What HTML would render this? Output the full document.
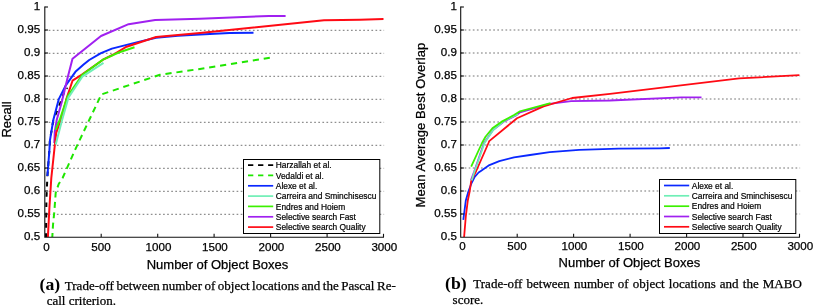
<!DOCTYPE html>
<html><head><meta charset="utf-8"><title>Figure</title>
<style>
html,body{margin:0;padding:0;background:#fff}
body{width:814px;height:305px;position:relative;overflow:hidden}
.cap{position:absolute;font:13px "Liberation Serif",serif;color:#000;white-space:nowrap;line-height:16px;-webkit-text-stroke:.25px #000}
.cap b{font-size:17.7px;font-weight:bold;line-height:20px;-webkit-text-stroke:0}
</style></head><body>
<svg width="814" height="305" viewBox="0 0 814 305" style="position:absolute;left:0;top:0">
<style>
.g{stroke:#747474;stroke-width:1;stroke-dasharray:1.7 2.385;}
.ax{stroke:#111;stroke-width:1.1;fill:none}
.t{font:11.6px "Liberation Sans",sans-serif;fill:#000;stroke:#000;stroke-width:.25}
.l{font:13px "Liberation Sans",sans-serif;fill:#000;stroke:#000;stroke-width:.25}
.lg{font:8.4px "Liberation Sans",sans-serif;fill:#000;stroke:#000;stroke-width:.2}
</style>
<line x1="44.6" y1="30.3" x2="384.1" y2="30.3" class="g"/>
<line x1="44.6" y1="53.3" x2="384.1" y2="53.3" class="g"/>
<line x1="44.6" y1="76.3" x2="384.1" y2="76.3" class="g"/>
<line x1="44.6" y1="99.3" x2="384.1" y2="99.3" class="g"/>
<line x1="44.6" y1="122.3" x2="384.1" y2="122.3" class="g"/>
<line x1="44.6" y1="145.3" x2="384.1" y2="145.3" class="g"/>
<line x1="44.6" y1="168.3" x2="384.1" y2="168.3" class="g"/>
<line x1="44.6" y1="191.3" x2="384.1" y2="191.3" class="g"/>
<line x1="44.6" y1="214.3" x2="384.1" y2="214.3" class="g"/>
<line x1="460.55" y1="30" x2="800.1" y2="30" class="g"/>
<line x1="460.55" y1="53" x2="800.1" y2="53" class="g"/>
<line x1="460.55" y1="76" x2="800.1" y2="76" class="g"/>
<line x1="460.55" y1="99" x2="800.1" y2="99" class="g"/>
<line x1="460.55" y1="122" x2="800.1" y2="122" class="g"/>
<line x1="460.55" y1="145" x2="800.1" y2="145" class="g"/>
<line x1="460.55" y1="168" x2="800.1" y2="168" class="g"/>
<line x1="460.55" y1="191" x2="800.1" y2="191" class="g"/>
<line x1="460.55" y1="214" x2="800.1" y2="214" class="g"/>
<polyline points="46.0,237.0 46.4,200.0 47.4,176.0 49.4,150.0 49.9,140.7 53.3,120.0 56.0,113.5 59.4,105.2 62.0,98.5 64.6,90.5" fill="none" stroke="#000" stroke-width="2" stroke-linejoin="round" stroke-dasharray="4.7 5.6" stroke-dashoffset="1"/>
<polyline points="52.3,237.0 53.0,225.0 54.3,212.0 55.7,192.8 58.7,184.0 62.6,178.0 75.0,150.0 89.2,120.0 101.4,94.4" fill="none" stroke="#1fe600" stroke-width="2" stroke-linejoin="round" stroke-dasharray="6 4.4" stroke-dashoffset="2"/>
<polyline points="101.4,94.4 160.0,74.8 200.0,68.9 270.9,57.5" fill="none" stroke="#1fe600" stroke-width="2" stroke-linejoin="round" stroke-dasharray="6.2 4.85" stroke-dashoffset="-1"/>
<polyline points="47.4,176.0 49.4,150.0 49.9,140.7 53.3,120.0 58.7,99.4 65.6,85.6 75.4,71.8 83.3,64.8 89.2,60.0 101.0,53.1 111.9,48.6 134.5,42.9 156.0,37.8 177.8,35.8 200.0,34.4 229.5,32.9 253.5,32.7" fill="none" stroke="#0a28ff" stroke-width="2.0" stroke-linejoin="round"/>
<polyline points="54.3,143.0 54.8,131.8 56.7,120.0 61.7,102.3 67.6,77.7 72.5,58.7 101.0,36.0 128.6,24.2 155.2,20.1 200.0,18.7 268.9,15.9 285.6,15.9" fill="none" stroke="#a020f0" stroke-width="2.0" stroke-linejoin="round"/>
<polyline points="47.9,237.0 49.4,208.0 51.3,178.0 54.3,150.0 56.2,132.8 60.7,120.0 66.6,98.4 72.5,80.7 82.3,74.4 103.0,59.7 113.5,54.5 126.6,46.7 156.1,37.0 200.0,32.9 324.0,20.3 360.0,19.7 383.5,19.0" fill="none" stroke="#ff0a14" stroke-width="2.0" stroke-linejoin="round"/>
<polyline points="55.6,129.8 59.7,120.0 67.6,96.4 82.3,74.8 103.0,59.6 118.7,52.5 134.5,47.2" fill="none" stroke="#3cf000" stroke-width="2.0" stroke-linejoin="round"/>
<polyline points="55.7,144.6 62.1,120.0 68.5,97.4 82.3,76.7 103.5,62.8" fill="none" stroke="#6fefb6" stroke-width="2.0" stroke-linejoin="round"/>
<polyline points="463.3,219.8 465.8,200.5 468.3,191.7 471.7,182.8 474.7,176.9 478.6,172.5 481.6,170.5 489.4,165.1 499.3,161.2 514.0,157.3 530.0,155.0 549.7,152.1 579.2,149.9 618.6,148.7 659.9,148.3 669.8,148.0" fill="none" stroke="#0a28ff" stroke-width="1.8" stroke-linejoin="round"/>
<polyline points="471.0,180.0 474.0,172.0 484.0,143.0 493.0,130.0 504.0,121.5 516.0,115.5 520.0,112.3 549.5,103.9 571.1,101.1 610.0,100.5 681.3,97.3 701.5,97.3" fill="none" stroke="#a020f0" stroke-width="1.8" stroke-linejoin="round"/>
<polyline points="464.1,237.0 465.8,216.5 467.8,200.5 469.8,190.7 471.2,180.8 476.2,171.0 488.5,143.0 489.2,141.1 517.0,118.2 543.6,106.4 572.1,98.0 610.0,93.9 739.2,78.4 799.4,75.2" fill="none" stroke="#ff0a14" stroke-width="1.8" stroke-linejoin="round"/>
<polyline points="471.7,180.4 474.2,172.5 484.5,143.0 493.4,129.8 504.0,121.0 516.0,115.0 518.0,114.3" fill="none" stroke="#6fefb6" stroke-width="1.8" stroke-linejoin="round"/>
<polyline points="471.2,166.6 482.0,143.0 485.5,136.7 492.4,128.3 501.3,121.9 514.0,115.0 520.0,111.3 550.5,103.1" fill="none" stroke="#3cf000" stroke-width="1.8" stroke-linejoin="round"/>
<circle cx="67.1" cy="88.4" r="0.8" fill="#000"/>
<path d="M44.8 6.5V237.2H384.0" class="ax"/>
<line x1="44.8" y1="7" x2="48.0" y2="7" class="ax"/>
<line x1="44.8" y1="30" x2="48.0" y2="30" class="ax"/>
<line x1="44.8" y1="53" x2="48.0" y2="53" class="ax"/>
<line x1="44.8" y1="76" x2="48.0" y2="76" class="ax"/>
<line x1="44.8" y1="99" x2="48.0" y2="99" class="ax"/>
<line x1="44.8" y1="122" x2="48.0" y2="122" class="ax"/>
<line x1="44.8" y1="145" x2="48.0" y2="145" class="ax"/>
<line x1="44.8" y1="168" x2="48.0" y2="168" class="ax"/>
<line x1="44.8" y1="191" x2="48.0" y2="191" class="ax"/>
<line x1="44.8" y1="214" x2="48.0" y2="214" class="ax"/>
<line x1="101.2" y1="237" x2="101.2" y2="233.8" class="ax"/>
<line x1="157.7" y1="237" x2="157.7" y2="233.8" class="ax"/>
<line x1="214.1" y1="237" x2="214.1" y2="233.8" class="ax"/>
<line x1="270.6" y1="237" x2="270.6" y2="233.8" class="ax"/>
<line x1="327.1" y1="237" x2="327.1" y2="233.8" class="ax"/>
<line x1="383.5" y1="237" x2="383.5" y2="233.8" class="ax"/>
<text x="40.2" y="10.3" class="t" text-anchor="end">1</text>
<text x="40.2" y="33.3" class="t" text-anchor="end">0.95</text>
<text x="40.2" y="56.3" class="t" text-anchor="end">0.9</text>
<text x="40.2" y="79.3" class="t" text-anchor="end">0.85</text>
<text x="40.2" y="102.3" class="t" text-anchor="end">0.8</text>
<text x="40.2" y="125.3" class="t" text-anchor="end">0.75</text>
<text x="40.2" y="148.3" class="t" text-anchor="end">0.7</text>
<text x="40.2" y="171.3" class="t" text-anchor="end">0.65</text>
<text x="40.2" y="194.3" class="t" text-anchor="end">0.6</text>
<text x="40.2" y="217.3" class="t" text-anchor="end">0.55</text>
<text x="40.2" y="240.3" class="t" text-anchor="end">0.5</text>
<text x="46.6" y="250.6" class="t" text-anchor="middle">0</text>
<text x="101.0" y="250.6" class="t" text-anchor="middle">500</text>
<text x="158.5" y="250.6" class="t" text-anchor="middle">1000</text>
<text x="214.9" y="250.6" class="t" text-anchor="middle">1500</text>
<text x="271.4" y="250.6" class="t" text-anchor="middle">2000</text>
<text x="327.9" y="250.6" class="t" text-anchor="middle">2500</text>
<text x="384.3" y="250.6" class="t" text-anchor="middle">3000</text>
<text x="217.5" y="269.4" class="l" text-anchor="middle">Number of Object Boxes</text>
<text transform="translate(11.2,119.5) rotate(-90)" class="l" text-anchor="middle" letter-spacing="0">Recall</text>
<path d="M460.7 6.5V237.2H800.0" class="ax"/>
<line x1="460.7" y1="7" x2="463.9" y2="7" class="ax"/>
<line x1="460.7" y1="30" x2="463.9" y2="30" class="ax"/>
<line x1="460.7" y1="53" x2="463.9" y2="53" class="ax"/>
<line x1="460.7" y1="76" x2="463.9" y2="76" class="ax"/>
<line x1="460.7" y1="99" x2="463.9" y2="99" class="ax"/>
<line x1="460.7" y1="122" x2="463.9" y2="122" class="ax"/>
<line x1="460.7" y1="145" x2="463.9" y2="145" class="ax"/>
<line x1="460.7" y1="168" x2="463.9" y2="168" class="ax"/>
<line x1="460.7" y1="191" x2="463.9" y2="191" class="ax"/>
<line x1="460.7" y1="214" x2="463.9" y2="214" class="ax"/>
<line x1="517.2" y1="237" x2="517.2" y2="233.8" class="ax"/>
<line x1="573.6" y1="237" x2="573.6" y2="233.8" class="ax"/>
<line x1="630.1" y1="237" x2="630.1" y2="233.8" class="ax"/>
<line x1="686.6" y1="237" x2="686.6" y2="233.8" class="ax"/>
<line x1="743.0" y1="237" x2="743.0" y2="233.8" class="ax"/>
<line x1="799.5" y1="237" x2="799.5" y2="233.8" class="ax"/>
<text x="456.9" y="9.8" class="t" text-anchor="end">1</text>
<text x="456.9" y="32.8" class="t" text-anchor="end">0.95</text>
<text x="456.9" y="55.8" class="t" text-anchor="end">0.9</text>
<text x="456.9" y="78.8" class="t" text-anchor="end">0.85</text>
<text x="456.9" y="101.8" class="t" text-anchor="end">0.8</text>
<text x="456.9" y="124.8" class="t" text-anchor="end">0.75</text>
<text x="456.9" y="147.8" class="t" text-anchor="end">0.7</text>
<text x="456.9" y="170.8" class="t" text-anchor="end">0.65</text>
<text x="456.9" y="193.8" class="t" text-anchor="end">0.6</text>
<text x="456.9" y="216.8" class="t" text-anchor="end">0.55</text>
<text x="456.9" y="239.8" class="t" text-anchor="end">0.5</text>
<text x="462.5" y="249.7" class="t" text-anchor="middle">0</text>
<text x="517.0" y="249.7" class="t" text-anchor="middle">500</text>
<text x="574.4" y="249.7" class="t" text-anchor="middle">1000</text>
<text x="630.9" y="249.7" class="t" text-anchor="middle">1500</text>
<text x="687.4" y="249.7" class="t" text-anchor="middle">2000</text>
<text x="743.8" y="249.7" class="t" text-anchor="middle">2500</text>
<text x="800.3" y="249.7" class="t" text-anchor="middle">3000</text>
<text x="629.4" y="267.3" class="l" text-anchor="middle">Number of Object Boxes</text>
<text transform="translate(425,125.0) rotate(-90)" class="l" text-anchor="middle" letter-spacing="0.1">Mean Average Best Overlap</text>
<rect x="243.5" y="159.5" width="136.3" height="74" fill="#fff" stroke="#000" stroke-width="1"/>
<line x1="248.0" y1="165.1" x2="273.2" y2="165.1" stroke="#000" stroke-width="1.7" stroke-dasharray="5.3 4.75"/>
<text x="275.8" y="168.3" class="lg">Harzallah et al.</text>
<line x1="248.0" y1="175.4" x2="273.2" y2="175.4" stroke="#1fe600" stroke-width="1.7" stroke-dasharray="5.3 4.75"/>
<text x="275.8" y="178.6" class="lg">Vedaldi et al.</text>
<line x1="248.0" y1="185.8" x2="273.2" y2="185.8" stroke="#0a28ff" stroke-width="1.7"/>
<text x="275.8" y="189.0" class="lg">Alexe et al.</text>
<line x1="248.0" y1="196.1" x2="273.2" y2="196.1" stroke="#6fefb6" stroke-width="1.7"/>
<text x="275.8" y="199.3" class="lg">Carreira and Sminchisescu</text>
<line x1="248.0" y1="206.4" x2="273.2" y2="206.4" stroke="#3cf000" stroke-width="1.7"/>
<text x="275.8" y="209.6" class="lg">Endres and Hoiem</text>
<line x1="248.0" y1="216.8" x2="273.2" y2="216.8" stroke="#a020f0" stroke-width="1.7"/>
<text x="275.8" y="219.9" class="lg">Selective search Fast</text>
<line x1="248.0" y1="227.1" x2="273.2" y2="227.1" stroke="#ff0a14" stroke-width="1.7"/>
<text x="275.8" y="230.3" class="lg">Selective search Quality</text>
<rect x="659.5" y="179.5" width="136.3" height="54" fill="#fff" stroke="#000" stroke-width="1"/>
<line x1="664.0" y1="185.5" x2="689.2" y2="185.5" stroke="#0a28ff" stroke-width="1.7"/>
<text x="691.8" y="188.7" class="lg">Alexe et al.</text>
<line x1="664.0" y1="195.8" x2="689.2" y2="195.8" stroke="#6fefb6" stroke-width="1.7"/>
<text x="691.8" y="199.0" class="lg">Carreira and Sminchisescu</text>
<line x1="664.0" y1="206.2" x2="689.2" y2="206.2" stroke="#3cf000" stroke-width="1.7"/>
<text x="691.8" y="209.4" class="lg">Endres and Hoiem</text>
<line x1="664.0" y1="216.5" x2="689.2" y2="216.5" stroke="#a020f0" stroke-width="1.7"/>
<text x="691.8" y="219.7" class="lg">Selective search Fast</text>
<line x1="664.0" y1="226.8" x2="689.2" y2="226.8" stroke="#ff0a14" stroke-width="1.7"/>
<text x="691.8" y="230.0" class="lg">Selective search Quality</text>
</svg>

<div class="cap" style="left:39.5px;top:274.3px"><b>(a)</b></div>
<div class="cap" style="left:64.8px;top:277.5px;word-spacing:-0.73px">Trade-off between number of object locations and the Pascal Re-</div>
<div class="cap" style="left:46.7px;top:293px">call criterion.</div>
<div class="cap" style="left:445px;top:273px"><b>(b)</b></div>
<div class="cap" style="left:473.3px;top:276px;word-spacing:0.9px">Trade-off between number of object locations and the MABO</div>
<div class="cap" style="left:452.6px;top:291.5px">score.</div>
</body></html>
